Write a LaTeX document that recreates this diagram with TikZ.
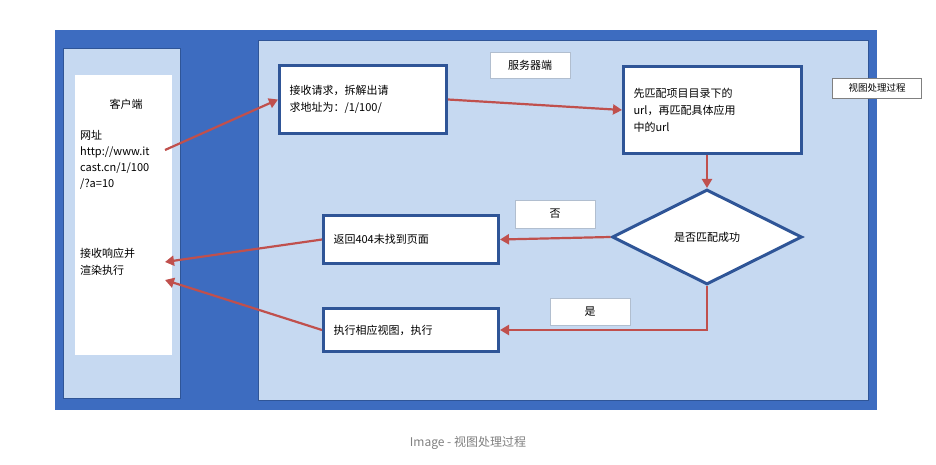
\documentclass[tikz,border=0pt]{standalone}
\usepackage{fontspec}
\setmainfont{Noto Sans CJK SC}
\usetikzlibrary{arrows.meta,shapes.geometric}
\definecolor{dblue}{HTML}{3D6CC0}
\definecolor{lblue}{HTML}{C6D9F1}
\definecolor{bdr}{HTML}{2F5597}
\definecolor{arr}{HTML}{C0504D}
\tikzset{
 pbox/.style={draw=bdr,line width=3pt,fill=white,align=left,font=\fontsize{11}{17}\selectfont,inner xsep=10pt,inner ysep=6pt,anchor=north west},
 lbox/.style={draw=lblue!70!gray,fill=white,font=\fontsize{11}{13}\selectfont},
 con/.style={draw=arr,line width=2.2pt,-{Triangle[length=9pt,width=10pt]}},
}
\begin{document}
\begin{tikzpicture}[x=1pt,y=-1pt]
\useasboundingbox (0,0) rectangle (936,465);
\fill[white] (0,0) rectangle (936,465);
\fill[dblue] (55,30) rectangle (877,410);
\draw[bdr,fill=lblue] (63,48) rectangle (180,398);
\fill[white] (75,75) rectangle (172,355);
\draw[bdr,fill=lblue] (258,40) rectangle (868,400);
\node[lbox,minimum width=80pt,minimum height=26pt] (srv) at (530,65) {服务器端};
\node[font=\fontsize{11}{13}\selectfont] (cl) at (126,104) {客户端};
\node[align=left,anchor=north west,font=\fontsize{11}{16}\selectfont,inner sep=0pt] (url) at (80,130) {网址\\http://www.it\\cast.cn/1/100\\/?a=10};
\node[align=left,anchor=north west,font=\fontsize{11}{17}\selectfont,inner sep=0pt] (rc) at (80,248) {接收响应并\\渲染执行};
\node[pbox,text width=147pt,minimum height=68pt] (b1) at (278,64) {接收请求，拆解出请\\求地址为：/1/100/};
\node[pbox,text width=158pt,minimum height=87pt] (b2) at (622,65) {先匹配项目目录下的\\url，再匹配具体应用\\中的url};
\node[diamond,draw=bdr,line width=3pt,fill=white,minimum width=190pt,minimum height=95pt,aspect=2,inner sep=0pt,font=\fontsize{11}{13}\selectfont] (d) at (707,237) {是否匹配成功};
\node[pbox,text width=155pt,minimum height=48pt] (b3) at (322,214) {返回404未找到页面};
\node[pbox,text width=155pt,minimum height=43pt] (b4) at (322,307) {执行相应视图，执行};
\node[lbox,minimum width=80pt,minimum height=28pt] (no) at (555,214) {否};
\node[lbox,minimum width=80pt,minimum height=27pt] (yes) at (590,312) {是};
\node[draw=gray,fill=white,font=\fontsize{9.5}{11}\selectfont,minimum width=89pt,minimum height=20pt] (lab) at (877,88) {视图处理过程};
\node[text=gray,font=\itshape\fontsize{12}{14}\selectfont] (cap) at (468,443) {Image - 视图处理过程};
\coordinate (c1) at (165,150);
\coordinate (c2) at (165,262);
\coordinate (c3) at (165,280);
\coordinate (k) at (707,330);
\draw[con] (c1) -- (b1.west);
\draw[con] (b1.east) -- (b2.west);
\draw[con] (d.north |- b2.south) -- (d.north);
\draw[con] (d.west) -- (b3.east);
\draw[con] (b3.west) -- (c2);
\draw[con] (d.south) -- (k) -- (b4.east);
\draw[con] (b4.west) -- (c3);
\end{tikzpicture}
\end{document}
